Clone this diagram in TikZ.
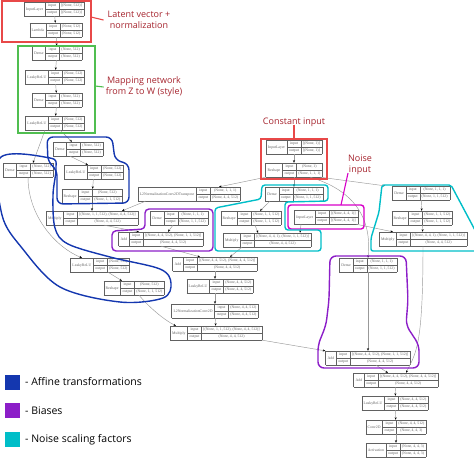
\documentclass[tikz,border=0pt]{standalone}
\usepackage{fontspec}
\setmainfont{Open Sans}
\newfontfamily\kerasfont{Liberation Serif}
\usetikzlibrary{arrows.meta}

\definecolor{annred}{RGB}{165,35,45}
\definecolor{boxred}{RGB}{232,72,72}
\definecolor{boxgreen}{RGB}{80,190,80}
\definecolor{affblue}{RGB}{20,55,175}
\definecolor{biaspurple}{RGB}{140,30,200}
\definecolor{noisepink}{RGB}{215,0,200}
\definecolor{scalecyan}{RGB}{0,190,200}

\setlength{\tabcolsep}{2pt}
\setlength{\arrayrulewidth}{0.3pt}
% one keras layer: name | input/output | shapes
\newcommand{\klayer}[3]{%
  \begin{tabular}{|c|@{}c@{}|}\hline
  #1 & \begin{tabular}{c|c}input & #2\\\hline output & #3\end{tabular}\\\hline
  \end{tabular}}

\begin{document}
\begin{tikzpicture}[x=1pt, y=-1pt]
        \tikzstyle{layer}=[inner sep=0pt, fill=white, text=black!62, font={\kerasfont\fontsize{3.8}{6.5}\selectfont}]
        \tikzstyle{edge}=[-{Stealth[length=2.6pt,width=2pt,black]}, draw=black!40, line width=0.45pt]
        \tikzstyle{ann}=[font=\fontsize{9}{11}\selectfont, text=annred, align=center, inner sep=0pt]
        \tikzstyle{lasso}=[line width=1.4pt]
        \tikzstyle{legend}=[font=\fontsize{10.5}{12}\selectfont, anchor=west, inner sep=0pt]
        \useasboundingbox (0,0) rectangle (474,459);

        % Mapping network
        \node[layer] (inp) at (54,9) {\klayer{InputLayer}{[(None, 512)]}{[(None, 512)]}};
        \node[layer] (lam) at (56,30) {\klayer{Lambda}{(None, 512)}{(None, 512)}};
        \node[layer] (map1) at (57,53) {\klayer{Dense}{(None, 512)}{(None, 512)}};
        \node[layer] (act1) at (55,77) {\klayer{LeakyReLU}{(None, 512)}{(None, 512)}};
        \node[layer] (map2) at (57,100) {\klayer{Dense}{(None, 512)}{(None, 512)}};
        \node[layer] (act2) at (55,123) {\klayer{LeakyReLU}{(None, 512)}{(None, 512)}};

        % Affine transformations
        \node[layer] (aff1) at (78,149) {\klayer{Dense}{(None, 512)}{(None, 512)}};
        \node[layer] (affact1) at (94,172) {\klayer{LeakyReLU}{(None, 512)}{(None, 512)}};
        \node[layer] (affre1) at (92,196) {\klayer{Reshape}{(None, 512)}{(None, 1, 1, 512)}};
        \node[layer] (aff2) at (28,170) {\klayer{Dense}{(None, 512)}{(None, 512)}};
        \node[layer] (affact2) at (100,265) {\klayer{LeakyReLU}{(None, 512)}{(None, 512)}};
        \node[layer] (affre2) at (134,288) {\klayer{Reshape}{(None, 512)}{(None, 1, 1, 512)}};

        % Constant input
        \node[layer] (cin) at (294,147) {\klayer{InputLayer}{[(None, 1)]}{[(None, 1)]}};
        \node[layer] (cre) at (294,170) {\klayer{Reshape}{(None, 1)}{(None, 1, 1, 1)}};
        \node[layer] (up) at (189,194) {\klayer{L2NormalizationConv2DTranspose}{(None, 1, 1, 1)}{(None, 4, 4, 512)}};
        \node[layer] (mul1) at (92,218) {\klayer{Multiply}{[(None, 1, 1, 512), (None, 4, 4, 512)]}{(None, 4, 4, 512)}};

        % Biases
        \node[layer] (bd1) at (179,218) {\klayer{Dense}{(None, 1, 1, 1)}{(None, 1, 1, 512)}};
        \node[layer] (ba1) at (161,239) {\klayer{Add}{[(None, 4, 4, 512), (None, 1, 1, 512)]}{(None, 4, 4, 512)}};
        \node[layer] (bd2) at (368,265) {\klayer{Dense}{(None, 1, 1, 1)}{(None, 1, 1, 512)}};
        \node[layer] (ba2) at (368,358) {\klayer{Add}{[(None, 4, 4, 512), (None, 1, 1, 512)]}{(None, 4, 4, 512)}};

        % Noise and its scaling factors
        \node[layer] (nin) at (326,217) {\klayer{InputLayer}{[(None, 4, 4, 1)]}{[(None, 4, 4, 1)]}};
        \node[layer] (sd1) at (294,194) {\klayer{Dense}{(None, 1, 1, 1)}{(None, 1, 1, 512)}};
        \node[layer] (sr1) at (251,218) {\klayer{Reshape}{(None, 1, 1, 512)}{(None, 1, 1, 512)}};
        \node[layer] (sm1) at (267,240) {\klayer{Multiply}{[(None, 4, 4, 1), (None, 1, 1, 512)]}{(None, 4, 4, 512)}};
        \node[layer] (sd2) at (421,193) {\klayer{Dense}{(None, 1, 1, 1)}{(None, 1, 1, 512)}};
        \node[layer] (sr2) at (422,218) {\klayer{Reshape}{(None, 1, 1, 512)}{(None, 1, 1, 512)}};
        \node[layer] (sm2) at (423,239) {\klayer{Multiply}{[(None, 4, 4, 1), (None, 1, 1, 512)]}{(None, 4, 4, 512)}};

        % Synthesis
        \node[layer] (add1) at (215,264) {\klayer{Add}{[(None, 4, 4, 512), (None, 4, 4, 512)]}{(None, 4, 4, 512)}};
        \node[layer] (act3) at (220,286) {\klayer{LeakyReLU}{(None, 4, 4, 512)}{(None, 4, 4, 512)}};
        \node[layer] (conv1) at (215,311) {\klayer{L2NormalizationConv2D}{(None, 4, 4, 512)}{(None, 4, 4, 512)}};
        \node[layer] (mul2) at (216,333) {\klayer{Multiply}{[(None, 1, 1, 512), (None, 4, 4, 512)]}{(None, 4, 4, 512)}};
        \node[layer] (add2) at (396,380) {\klayer{Add}{[(None, 4, 4, 512), (None, 4, 4, 512)]}{(None, 4, 4, 512)}};
        \node[layer] (act4) at (395,403) {\klayer{LeakyReLU}{(None, 4, 4, 512)}{(None, 4, 4, 512)}};
        \node[layer] (rgb) at (396,427) {\klayer{Conv2D}{(None, 4, 4, 512)}{(None, 4, 4, 3)}};
        \node[layer] (out) at (396,450) {\klayer{Activation}{(None, 4, 4, 3)}{(None, 4, 4, 3)}};

        % Edges
        \draw[edge] (inp) -- (lam);
        \draw[edge] (lam) -- (map1);
        \draw[edge] (map1) -- (act1);
        \draw[edge] (act1) -- (map2);
        \draw[edge] (map2) -- (act2);
        \draw[edge] ([xshift=5pt]act2.south) -- ([xshift=-6pt]aff1.north);
        \draw[edge] ([xshift=-10pt]act2.south) -- ([xshift=5pt]aff2.north);
        \draw[edge] ([xshift=-8pt]aff1.south) -- ([xshift=-6pt]affact1.north);
        \draw[edge] (affact1) -- (affre1);
        \draw[edge] (affre1) -- (mul1);
        \draw[edge] (aff2.south) .. controls +(0,40) and +(-25,-10) .. ([xshift=-18pt]affact2.north);
        \draw[edge] ([xshift=8pt]affact2.south) -- ([xshift=-12pt]affre2.north);
        \draw[edge] ([xshift=5pt]affre2.south) .. controls +(10,12) and +(-12,-6) .. ([xshift=-40pt]mul2.north);
        \draw[edge] (cin) -- (cre);
        \draw[edge] ([xshift=-28pt]cre.south) -- ([xshift=30pt]up.north);
        \draw[edge] (cre) -- (sd1);
        \draw[edge] ([xshift=26pt]cre.south) -- ([xshift=-36pt]sd2.north);
        \draw[edge] ([xshift=16pt]cre.south) .. controls +(44,13) and +(4,-40) .. (bd2.north);
        \draw[edge] ([xshift=8pt]up.south west) -- ([xshift=30pt]mul1.north);
        \draw[edge] ([xshift=12pt]mul1.south) -- ([xshift=-22pt]ba1.north);
        \draw[edge] ([xshift=-6pt]bd1.south) -- ([xshift=7pt]ba1.north);
        \draw[edge] (ba1.south) -- ([xshift=-15pt]add1.north);
        \draw[edge] ([xshift=-24pt]sd1.south) -- ([xshift=9pt]sr1.north);
        \draw[edge] ([xshift=4pt]sr1.south) -- ([xshift=-9pt]sm1.north);
        \draw[edge] ([xshift=-25pt]nin.south) -- ([xshift=33pt]sm1.north);
        \draw[edge] ([xshift=30pt]nin.south) -- ([xshift=-30pt]sm2.north);
        \draw[edge] (sd2) -- (sr2);
        \draw[edge] (sr2) -- (sm2);
        \draw[edge] ([xshift=-25pt]sm1.south) -- ([xshift=15pt]add1.north);
        \draw[edge] (sm2.south) .. controls +(0,100) and +(10,-20) .. ([xshift=10pt]add2.north);
        \draw[edge] (add1) -- ([xshift=-5pt]act3.north);
        \draw[edge] ([xshift=-5pt]act3.south) -- (conv1);
        \draw[edge] (conv1) -- (mul2);
        \draw[edge] (mul2.south east) -- (ba2.north west);
        \draw[edge] (bd2) -- (ba2);
        \draw[edge] ([xshift=8pt]ba2.south) -- ([xshift=-8pt]add2.north);
        \draw[edge] (add2) -- (act4);
        \draw[edge] (act4) -- (rgb);
        \draw[edge] (rgb) -- (out);

        % Annotations
        \draw[boxred, line width=1.1pt] (2,1) rectangle (91,42);
        \coordinate (latentend) at (91,17);
        \node[ann] (latent) at (139,20) {Latent vector +\\normalization};
        \draw[boxred, line width=1.1pt] (latentend) -- ([xshift=-4pt]latent.west);
        \draw[boxgreen, line width=1.1pt] (18,46) rectangle (95,133);
        \coordinate (mapend) at (95,86);
        \node[ann] (mapping) at (144,87) {Mapping network\\from Z to W (style)};
        \draw[boxgreen, line width=1.1pt] (mapend) -- ([xshift=-2pt]mapping.west);
        \draw[boxred, line width=1.1pt] (261,139) rectangle (327,179);
        \coordinate (consttop) at (294,139);
        \node[ann] (const) at (294,122) {Constant input};
        \draw[boxred, line width=1.1pt] ([yshift=2pt]const.south) -- (consttop);
        \draw[noisepink, lasso, rounded corners=3pt] (288,205) rectangle (364,229);
        \coordinate (noisetop) at (341,205);
        \node[ann] (noise) at (360,165) {Noise\\input};
        \draw[noisepink, line width=1.1pt] ([xshift=-12pt,yshift=2pt]noise.south) -- (noisetop);

        % Lassos
        \draw[affblue, lasso, rounded corners=6pt] (47,137) -- (112,137) -- (115,160) -- (129,164) -- (129,203) -- (57,204) -- (57,170) -- (48,162) -- cycle;
        \draw[affblue, lasso] plot[smooth cycle, tension=0.55] coordinates {(0,158) (50,158) (56,168) (53,195) (55,228) (68,244) (110,257) (160,269) (171,283) (163,298) (120,302) (60,287) (22,248) (2,215)};
        \draw[biaspurple, lasso, rounded corners=4pt] (145,209) -- (213,209) -- (213,251) -- (112,251) -- (112,231) -- (145,229) -- cycle;
        \draw[biaspurple, lasso, rounded corners=6pt] (330,256) -- (406,256) -- (408,300) -- (406,325) -- (419,345) -- (419,368) -- (318,368) -- (318,345) -- (326,325) -- (329,300) -- cycle;
        \draw[scalecyan, lasso, rounded corners=3pt] (262,185) -- (328,185) -- (328,201) -- (285,202) -- (285,230) -- (321,230) -- (321,251) -- (215,251) -- (215,208) -- (261,199) -- cycle;
        \draw[scalecyan, lasso, rounded corners=2pt] (382,185) -- (451,185) -- (476,232) -- (476,251) -- (371,251) -- (371,238) -- (379,212) -- cycle;

        % Legend
        \fill[affblue] (5,375) rectangle (20,390);
        \node[legend] (lgaff) at (25,382) {- Affine transformations};
        \fill[biaspurple] (5,403) rectangle (20,418);
        \node[legend] (lgbias) at (25,411) {- Biases};
        \fill[scalecyan] (5,432) rectangle (20,447);
        \node[legend] (lgnoise) at (25,440) {- Noise scaling factors};
\end{tikzpicture}
\end{document}
